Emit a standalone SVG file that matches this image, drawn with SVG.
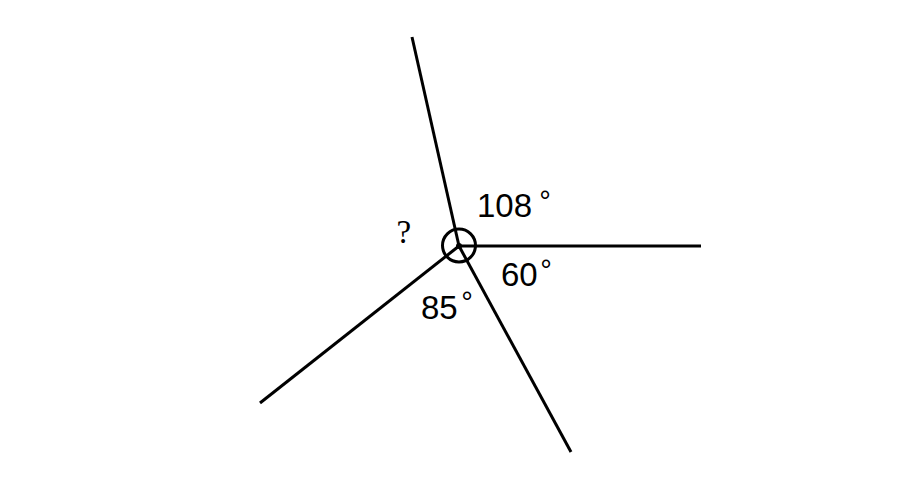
<svg xmlns="http://www.w3.org/2000/svg" width="917" height="502" viewBox="0 0 917 502">
<style>
.ln{stroke:#000;stroke-width:3;fill:none;stroke-linecap:butt}
.lbl{font-family:"Liberation Sans",Arial,sans-serif;font-size:33px;fill:#000}
.dg{font-size:29px}
.q{font-family:"Liberation Serif","Times New Roman",serif;font-size:33px;fill:#000}
</style>
<rect width="917" height="502" fill="#fff"/>
<g id="connectors">
<line class="ln" x1="459" y1="246" x2="412" y2="37"/>
<line class="ln" x1="459" y1="246" x2="701" y2="246"/>
<line class="ln" x1="459" y1="246" x2="571" y2="452"/>
<line class="ln" x1="459" y1="246" x2="260" y2="403"/>
</g>
<g id="vertex">
<circle cx="459" cy="245.5" r="16.5" fill="none" stroke="#000" stroke-width="3"/>
<circle cx="459" cy="246" r="3" fill="#000"/>
</g>
<g id="label-108">
<text class="lbl" x="477" y="216.5">108<tspan class="dg" x="539.3" y="210.8">°</tspan></text>
</g>
<g id="label-60">
<text class="lbl" x="501" y="285.5">60<tspan class="dg" x="540.3" y="279.8">°</tspan></text>
</g>
<g id="label-85">
<text class="lbl" x="421" y="318.5">85<tspan class="dg" x="461.3" y="311.8">°</tspan></text>
</g>
<g id="label-q">
<text class="q" x="396.5" y="243">?</text>
</g>
</svg>
